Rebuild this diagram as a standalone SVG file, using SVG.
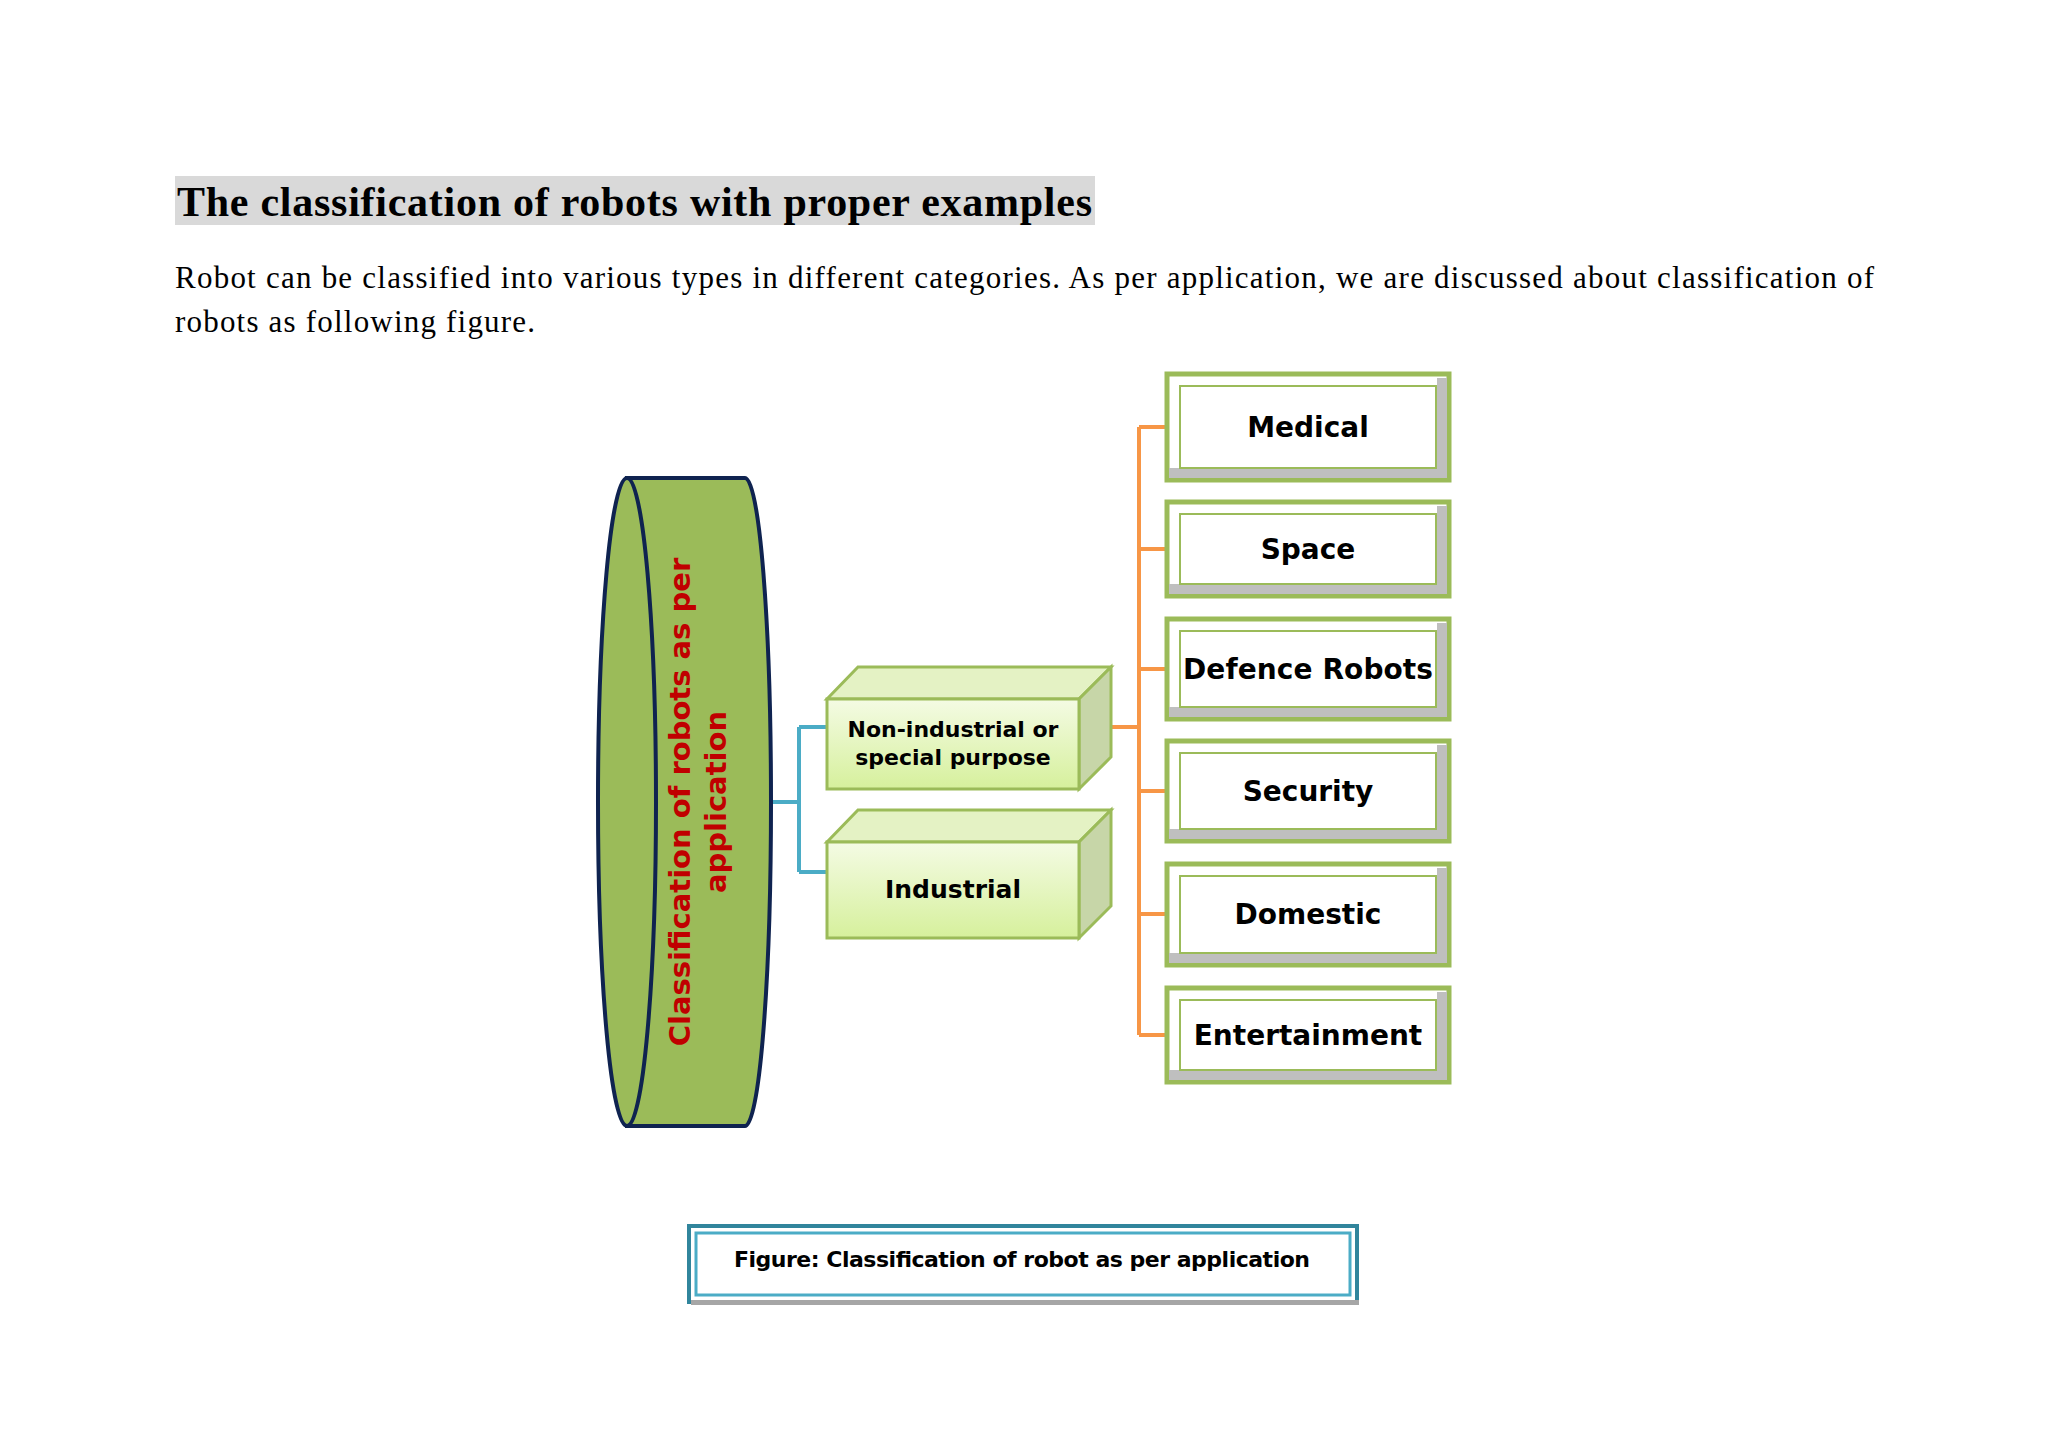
<svg xmlns="http://www.w3.org/2000/svg" width="2048" height="1449" viewBox="0 0 2048 1449">
<style>
.lbl{font-family:"DejaVu Sans","Liberation Sans",Arial,sans-serif;font-weight:bold;text-anchor:middle;fill:#000}
.cat{font-size:28px}
.front{fill:url(#gg);stroke:#9BBB59;stroke-width:3}
.side{fill:#C7D6A8;stroke:#9BBB59;stroke-width:3}
.top{fill:#E4F2C4;stroke:#9BBB59;stroke-width:3}
.outer{fill:#fff;stroke:#9BBB59;stroke-width:5}
.shade{fill:#BFBFBF}
.inner{fill:#fff;stroke:#9BBB59;stroke-width:2}
</style>
<defs>
<linearGradient id="gg" x1="0" y1="0" x2="0" y2="1"><stop offset="0" stop-color="#F4FBE4"/><stop offset="1" stop-color="#D6F09C"/></linearGradient>
</defs>
<rect width="2048" height="1449" fill="#fff"/>
<rect x="175" y="176" width="920" height="49" fill="#D9D9D9"/>
<text x="177" y="216" font-family="Liberation Serif,serif" font-weight="bold" font-size="42" textLength="915">The classification of robots with proper examples</text>
<text x="175" y="288" font-family="Liberation Serif,serif" font-size="31" textLength="1699">Robot can be classified into various types in different categories. As per application, we are discussed about classification of</text>
<text x="175" y="332" font-family="Liberation Serif,serif" font-size="31" textLength="360">robots as following figure.</text>

<g id="connectors" fill="none" stroke-width="4">
<path d="M771 802H799M799 727V872M799 727H827M799 872H827" stroke="#4BACC6"/>
<path d="M1111 727H1139M1139 427V1035M1139 427H1166M1139 549H1166M1139 669H1166M1139 791H1166M1139 914H1166M1139 1035H1166" stroke="#F79646"/>
</g>

<g id="cylinder">
<path d="M627 478H745A26 324 0 0 1 745 1126H627Z" fill="#9BBB59" stroke="#0F2350" stroke-width="4"/>
<ellipse cx="627" cy="802" rx="29" ry="324" fill="#9BBB59" stroke="#0F2350" stroke-width="4"/>
<g transform="translate(680 802) rotate(-90)"><text class="lbl" x="0" y="10" font-size="29" style="fill:#C00000">Classification of robots as per</text></g>
<g transform="translate(716 802) rotate(-90)"><text class="lbl" x="0" y="10" font-size="29" style="fill:#C00000">application</text></g>
</g>

<g id="nonindustrial">
<polygon class="top" points="827,699 858,667 1111,667 1079,699"/>
<polygon class="side" points="1079,699 1111,667 1111,757 1079,789"/>
<rect class="front" x="827" y="699" width="252" height="90"/>
<text class="lbl" x="953" y="737" font-size="22">Non-industrial or</text>
<text class="lbl" x="953" y="765" font-size="22">special purpose</text>
</g>
<g id="industrial">
<polygon class="top" points="827,842 858,810 1111,810 1079,842"/>
<polygon class="side" points="1079,842 1111,810 1111,906 1079,938"/>
<rect class="front" x="827" y="842" width="252" height="96"/>
<text class="lbl" x="953" y="898" font-size="25">Industrial</text>
</g>

<g id="medical"><rect class="outer" x="1167" y="374" width="282" height="106"/><rect class="shade" x="1437" y="378" width="10" height="100"/><rect class="shade" x="1169" y="468" width="278" height="10"/><rect class="inner" x="1180" y="386" width="256" height="82"/><text class="lbl cat" x="1308" y="437">Medical</text></g>
<g id="space"><rect class="outer" x="1167" y="502" width="282" height="94"/><rect class="shade" x="1437" y="506" width="10" height="88"/><rect class="shade" x="1169" y="584" width="278" height="10"/><rect class="inner" x="1180" y="514" width="256" height="70"/><text class="lbl cat" x="1308" y="559">Space</text></g>
<g id="defence"><rect class="outer" x="1167" y="619" width="282" height="100"/><rect class="shade" x="1437" y="623" width="10" height="94"/><rect class="shade" x="1169" y="707" width="278" height="10"/><rect class="inner" x="1180" y="631" width="256" height="76"/><text class="lbl cat" x="1308" y="679" textLength="250">Defence Robots</text></g>
<g id="security"><rect class="outer" x="1167" y="741" width="282" height="100"/><rect class="shade" x="1437" y="745" width="10" height="94"/><rect class="shade" x="1169" y="829" width="278" height="10"/><rect class="inner" x="1180" y="753" width="256" height="76"/><text class="lbl cat" x="1308" y="801">Security</text></g>
<g id="domestic"><rect class="outer" x="1167" y="864" width="282" height="101"/><rect class="shade" x="1437" y="868" width="10" height="95"/><rect class="shade" x="1169" y="953" width="278" height="10"/><rect class="inner" x="1180" y="876" width="256" height="77"/><text class="lbl cat" x="1308" y="924">Domestic</text></g>
<g id="entertainment"><rect class="outer" x="1167" y="988" width="282" height="94"/><rect class="shade" x="1437" y="992" width="10" height="88"/><rect class="shade" x="1169" y="1070" width="278" height="10"/><rect class="inner" x="1180" y="1000" width="256" height="70"/><text class="lbl cat" x="1308" y="1045">Entertainment</text></g>

<g id="caption">
<rect x="689" y="1226" width="668" height="76" fill="#fff" stroke="#31859C" stroke-width="4"/>
<rect x="696" y="1233" width="654" height="62" fill="none" stroke="#4BACC6" stroke-width="3"/>
<rect x="691" y="1300" width="668" height="5" fill="#A6A6A6"/>
<text class="lbl" x="1022" y="1267" font-size="22" textLength="576">Figure: Classification of robot as per application</text>
</g>
</svg>
